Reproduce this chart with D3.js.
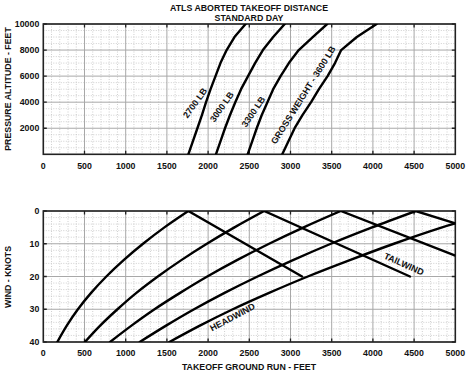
<!DOCTYPE html>
<html lang="en">
<head>
<meta charset="UTF-8">
<title>ATLS aborted takeoff distance</title>
<style>
  body { margin: 0; background: #fff; }
  svg { display: block; background: #fff; }
  text { font-family: "Liberation Sans", Arial, sans-serif; font-weight: bold; fill: #111; }
  .grid-major { stroke: #a8a8a8; stroke-width: 1; }
  .grid-minor { stroke: #c4c4c4; stroke-width: 0.8; stroke-dasharray: 1,1.5; }
  .frame { fill: none; stroke: #222; stroke-width: 1.6; }
  .curve { fill: none; stroke: #000; stroke-width: 2.4; stroke-linejoin: round; stroke-linecap: round; }
</style>
</head>
<body>
<svg width="474" height="380"></svg>
<script src="https://d3js.org/d3.v7.min.js"></script>
<script>
// ---- data ----
const altSteps = [0, 1000, 2000, 3000, 4000, 5000, 6000, 7000, 8000, 9000, 10000];
const gw2700 = [1760, 1815, 1870, 1925, 1975, 2030, 2090, 2150, 2225, 2320, 2455];
const gw3000 = [2095, 2150, 2205, 2265, 2330, 2400, 2485, 2570, 2665, 2790, 2930];
const gw3300 = [2480, 2535, 2590, 2650, 2720, 2790, 2880, 2980, 3100, 3270, 3445];
const gw3600 = [2900, 2975, 3050, 3145, 3250, 3345, 3450, 3540, 3615, 3805, 4045];
const gwLabels = ["2700 LB", "3000 LB", "3300 LB", "GROSS WEIGHT - 3600 LB"];
// label anchor (feet, altitude) and angle
const gwLabelFt = [1841, 2165, 2549, 3155];
const gwLabelAlt = [3940, 3650, 3270, 4550];
const gwLabelAngle = [-54, -55, -56, -58];

const windSteps = [0, 5, 10, 15, 20, 25, 30, 35, 40];
const head1 = [1760, 1470, 1210, 975, 765, 580, 420, 285, 170];
const head2 = [2680, 2320, 1985, 1675, 1390, 1130, 900, 690, 505];
const head3 = [3610, 3160, 2740, 2350, 1990, 1660, 1350, 1070, 810];
const head4 = [4520, 3990, 3490, 3030, 2600, 2200, 1830, 1490, 1170];
const head5Wind = [3.8, 5, 10, 15, 20, 25, 30, 35, 40];
const head5 = [5000, 4840, 4255, 3720, 3210, 2740, 2300, 1900, 1530];

const tailStartFt = [1760, 2680, 3610, 4520];
const tailEndFt = [3140, 4450, 5000, 5000];
const tailEndWind = [20, 20, 13.6, 3.8];

const xTicks = [0, 500, 1000, 1500, 2000, 2500, 3000, 3500, 4000, 4500, 5000];
const altTicks = [2000, 4000, 6000, 8000, 10000];
const windTicks = [0, 10, 20, 30, 40];

// ---- layout ----
const svg = d3.select("svg");
const left = 43.3, right = 455.3;

const x = d3.scaleLinear().domain([0, 5000]).range([left, right]);
const yAlt = d3.scaleLinear().domain([0, 10000]).range([154.3, 24]);
const yWind = d3.scaleLinear().domain([0, 40]).range([211, 342]);

function panel(name, y, yTickVals, yMinorStep, yMax) {
  const g = svg.append("g").attr("class", name);
  const [y0, y1] = y.range();
  const top = Math.min(y0, y1), bot = Math.max(y0, y1);

  // minor grid
  g.selectAll(".vminor").data(d3.range(100, 5000, 100).filter(d => d % 500 != 0))
    .join("line").attr("class", "grid-minor")
    .attr("x1", d => x(d)).attr("x2", d => x(d)).attr("y1", top).attr("y2", bot);
  g.selectAll(".hminor").data(d3.range(yMinorStep, yMax, yMinorStep).filter(d => !yTickVals.includes(d)))
    .join("line").attr("class", "grid-minor")
    .attr("x1", left).attr("x2", right).attr("y1", d => y(d)).attr("y2", d => y(d));

  // major grid
  g.selectAll(".vmajor").data(xTicks.slice(1, -1))
    .join("line").attr("class", "grid-major")
    .attr("x1", d => x(d)).attr("x2", d => x(d)).attr("y1", top).attr("y2", bot);
  g.selectAll(".hmajor").data(yTickVals)
    .join("line").attr("class", "grid-major")
    .attr("x1", left).attr("x2", right).attr("y1", d => y(d)).attr("y2", d => y(d));

  // inner tick marks
  const tk = 3.5;
  g.selectAll(".tkx").data(xTicks.slice(1, -1)).join("path")
    .attr("stroke", "#222").attr("stroke-width", 1.3)
    .attr("d", d => `M${x(d)},${top}v${tk}M${x(d)},${bot}v${-tk}`);
  g.selectAll(".tky").data(yTickVals).join("path")
    .attr("stroke", "#222").attr("stroke-width", 1.3)
    .attr("d", d => `M${left},${y(d)}h${tk}M${right},${y(d)}h${-tk}`);

  g.append("rect").attr("class", "frame")
    .attr("x", left).attr("y", top).attr("width", right - left).attr("height", bot - top);

  // tick labels
  g.selectAll(".xl").data(xTicks).join("text")
    .attr("x", d => x(d)).attr("y", bot + 14.3)
    .attr("text-anchor", "middle").attr("font-size", 8.8)
    .text(d => d);
  g.selectAll(".yl").data(yTickVals).join("text")
    .attr("x", left - 4).attr("y", d => y(d)).attr("dy", "0.35em")
    .attr("text-anchor", "end").attr("font-size", 8.8)
    .text(d => d);

  svg.append("clipPath").attr("id", "clip-" + name)
    .append("rect").attr("x", left).attr("y", top).attr("width", right - left).attr("height", bot - top);
  return g.append("g").attr("clip-path", `url(#clip-${name})`);
}

// ---- top panel: altitude vs distance ----
const topMarks = panel("top", yAlt, altTicks, 500, 10000);
const altLine = d3.line()
  .x(d => x(d[0]))
  .y(d => yAlt(d[1]));

[gw2700, gw3000, gw3300, gw3600].forEach(s => {
  topMarks.append("path").attr("class", "curve")
    .attr("d", altLine(s.map((v, i) => [v, altSteps[i]])));
});

svg.selectAll(".gwlab").data(gwLabels).join("text")
  .attr("font-size", 9)
  .attr("text-anchor", "middle").attr("dy", "0.35em")
  .attr("transform", (d, i) => `translate(${x(gwLabelFt[i])},${yAlt(gwLabelAlt[i])}) rotate(${gwLabelAngle[i]})`)
  .text(d => d);

// ---- bottom panel: wind vs distance ----
const botMarks = panel("bot", yWind, windTicks, 2, 40);
const windLine = d3.line()
  .x(d => x(d[0]))
  .y(d => yWind(d[1]))
  .curve(d3.curveCatmullRom.alpha(0.5));

[head1, head2, head3, head4].forEach(s => {
  botMarks.append("path").attr("class", "curve")
    .attr("d", windLine(s.map((v, i) => [v, windSteps[i]])));
});
botMarks.append("path").attr("class", "curve")
  .attr("d", windLine(head5.map((v, i) => [v, head5Wind[i]])));

tailStartFt.forEach((s, i) => {
  botMarks.append("path").attr("class", "curve")
    .attr("d", d3.line()([[x(s), yWind(0)], [x(tailEndFt[i]), yWind(tailEndWind[i])]]));
});

svg.append("text").attr("font-size", 9).attr("text-anchor", "middle").attr("dy", "0.35em")
  .attr("transform", `translate(${x(2296)},${yWind(32.4)}) rotate(-28)`)
  .text("HEADWIND");
svg.append("text").attr("font-size", 9).attr("text-anchor", "middle").attr("dy", "0.35em")
  .attr("transform", `translate(${x(4377)},${yWind(16.2)}) rotate(24)`)
  .text("TAILWIND");

// ---- titles ----
svg.append("text").attr("x", 249).attr("y", 11).attr("text-anchor", "middle")
  .attr("font-size", 8.8).text("ATLS ABORTED TAKEOFF DISTANCE");
svg.append("text").attr("x", 249).attr("y", 20.6).attr("text-anchor", "middle")
  .attr("font-size", 8.8).text("STANDARD DAY");

svg.append("text").attr("transform", "translate(10.5,89) rotate(-90)")
  .attr("text-anchor", "middle").attr("font-size", 8.8).text("PRESSURE ALTITUDE - FEET");
svg.append("text").attr("transform", "translate(10.5,277) rotate(-90)")
  .attr("text-anchor", "middle").attr("font-size", 8.8).text("WIND - KNOTS");
svg.append("text").attr("x", 249).attr("y", 370).attr("text-anchor", "middle")
  .attr("font-size", 8.8).text("TAKEOFF GROUND RUN - FEET");
</script>
</body>
</html>
